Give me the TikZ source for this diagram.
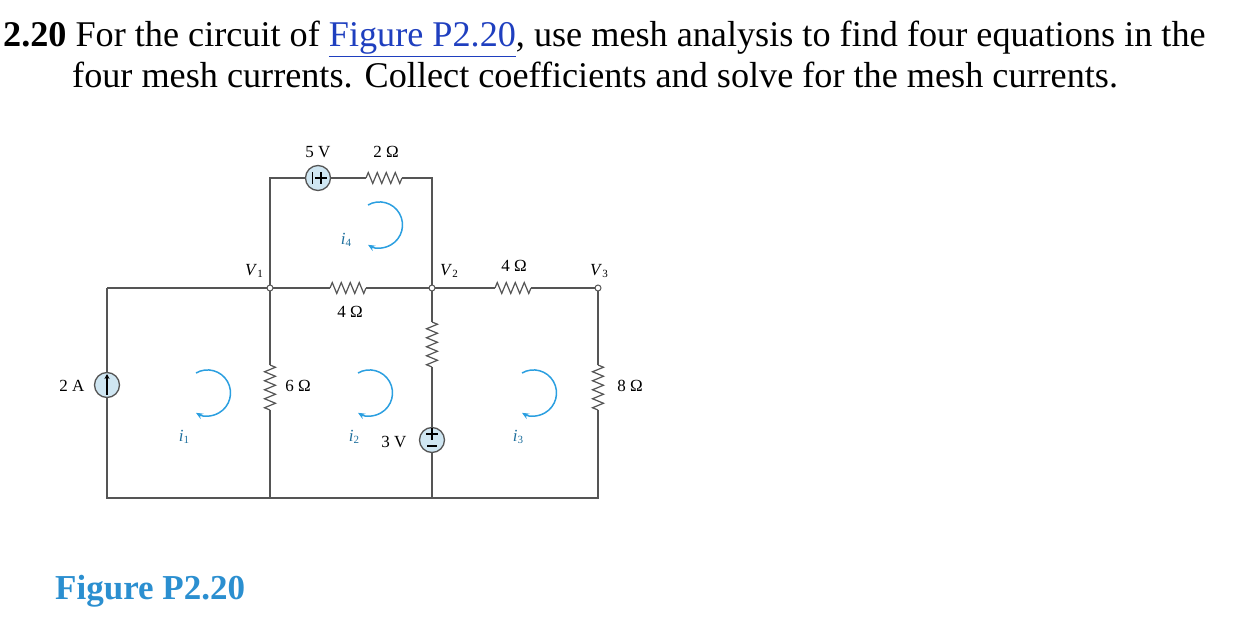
\documentclass[tikz,border=0pt]{standalone}
\usepackage{fontspec}
\setmainfont{Liberation Serif}
\usetikzlibrary{decorations.pathmorphing,arrows.meta}
\definecolor{wire}{HTML}{555555}
\definecolor{srcfill}{HTML}{CFE6F2}
\definecolor{meshblue}{HTML}{2B9FE0}
\definecolor{linkblue}{HTML}{1F3FBF}
\definecolor{figblue}{HTML}{2B8FD0}
\newcommand{\sub}[2]{\textit{#1}\raisebox{-0.25ex}{\fontsize{11}{12}\selectfont #2}}
\tikzset{
 w/.style={draw=wire,line width=1.4pt},
 res/.style={draw=wire,line width=1.2pt,decorate,decoration={zigzag,segment length=9pt,amplitude=5.5pt}},
 src/.style={circle,draw=wire,line width=1.3pt,fill=srcfill,minimum size=25pt,inner sep=0pt},
 mesh/.style={draw=meshblue,line width=1.5pt,-{Stealth[length=7pt,width=6pt]}},
 lbl/.style={font=\fontsize{17}{19}\selectfont,inner sep=0pt},
 dot/.style={circle,draw=wire,fill=white,line width=1pt,minimum size=6pt,inner sep=0pt},
 title/.style={font=\fontsize{36.2}{40}\selectfont,anchor=base west,inner sep=0pt}
}
\begin{document}
\begin{tikzpicture}[x=1pt,y=-1pt]
\useasboundingbox (0,0) rectangle (1235,642);
% title
\node[title] (t1) at (3,47) {\textbf{2.20} For the circuit of \textcolor{linkblue}{\underline{Figure P2.20}}, use mesh analysis to find four equations in the};
\node[title] (t2) at (72,88) {four mesh currents. Collect coefficients and solve for the mesh currents.};
\node[font=\fontsize{35}{40}\selectfont\bfseries,text=figblue,anchor=base west,inner sep=0pt] (fig) at (55,599) {Figure P2.20};
% coordinates
\coordinate (TL) at (270,178); \coordinate (TR) at (432,178);
\coordinate (A) at (107,288); \coordinate (V1) at (270,288); \coordinate (V2) at (432,288); \coordinate (V3) at (598,288);
\coordinate (BA) at (107,498); \coordinate (B1) at (270,498); \coordinate (B2) at (432,498); \coordinate (B3) at (598,498);
% sources
\node[src] (s5) at (318,178) {};
\node[src] (s3) at (432,440) {};
\node[src] (s2) at (107,385) {};
% wires
\draw[w] (V1) -- (TL) -- (s5);
\draw[w] (s5) -- (366,178); \draw[res] (366,178) -- (402,178); \draw[w] (402,178) -- (TR) -- (V2);
\draw[w] (A) -- (V1) -- (330,288); \draw[res] (330,288) -- (366,288); \draw[w] (366,288) -- (V2) -- (495,288);
\draw[res] (495,288) -- (531,288); \draw[w] (531,288) -- (V3) -- (598,365);
\draw[res] (598,365) -- (598,410); \draw[w] (598,410) -- (B3) -- (BA) -- (s2) -- (A);
\draw[w] (V1) -- (270,365); \draw[res] (270,365) -- (270,410); \draw[w] (270,410) -- (B1);
\draw[w] (V2) -- (432,322); \draw[res] (432,322) -- (432,367); \draw[w] (432,367) -- (s3) -- (B2);
% source symbols
\draw[line width=1.2pt] (s5.center)++(3,-6) -- ++(0,12) (s5.center)++(-3,0) -- ++(12,0);
\draw[line width=1pt] (s5.center)++(-6,-6) -- ++(0,12);
\draw[line width=1.1pt] (432,428) -- (432,440) (426,434) -- (438,434) (427,446) -- (437,446);
\draw[line width=1.2pt,-{Stealth[length=5pt,width=5pt]}] (107,395) -- (107,374);
% nodes
\node[dot] (d1) at (V1) {}; \node[dot] (d2) at (V2) {}; \node[dot] (d3) at (V3) {};
% meshes
\draw[mesh] (196,373) arc[start angle=-120,end angle=120,radius=23];
\draw[mesh] (358,373) arc[start angle=-120,end angle=120,radius=23];
\draw[mesh] (522,373) arc[start angle=-120,end angle=120,radius=23];
\draw[mesh] (368,205) arc[start angle=-120,end angle=120,radius=23];
% labels
\node[lbl] (l5v) at (318,152) {5 V};
\node[lbl] (l2o) at (386,152) {2 Ω};
\node[lbl] (lv1) at (254,271) {\sub{V}{1}};
\node[lbl] (lv2) at (449,271) {\sub{V}{2}};
\node[lbl] (l4r) at (514,266) {4 Ω};
\node[lbl] (lv3) at (599,271) {\sub{V}{3}};
\node[lbl] (l4m) at (350,312) {4 Ω};
\node[lbl] (l6) at (298,386) {6 Ω};
\node[lbl] (l8) at (630,386) {8 Ω};
\node[lbl] (l2a) at (72,386) {2 A};
\node[lbl] (l3v) at (394,442) {3 V};
\node[lbl,text=meshblue!70!black] (i4) at (346,240) {\sub{i}{4}};
\node[lbl,text=meshblue!70!black] (i1) at (184,437) {\sub{i}{1}};
\node[lbl,text=meshblue!70!black] (i2) at (354,437) {\sub{i}{2}};
\node[lbl,text=meshblue!70!black] (i3) at (518,437) {\sub{i}{3}};
\end{tikzpicture}
\end{document}
